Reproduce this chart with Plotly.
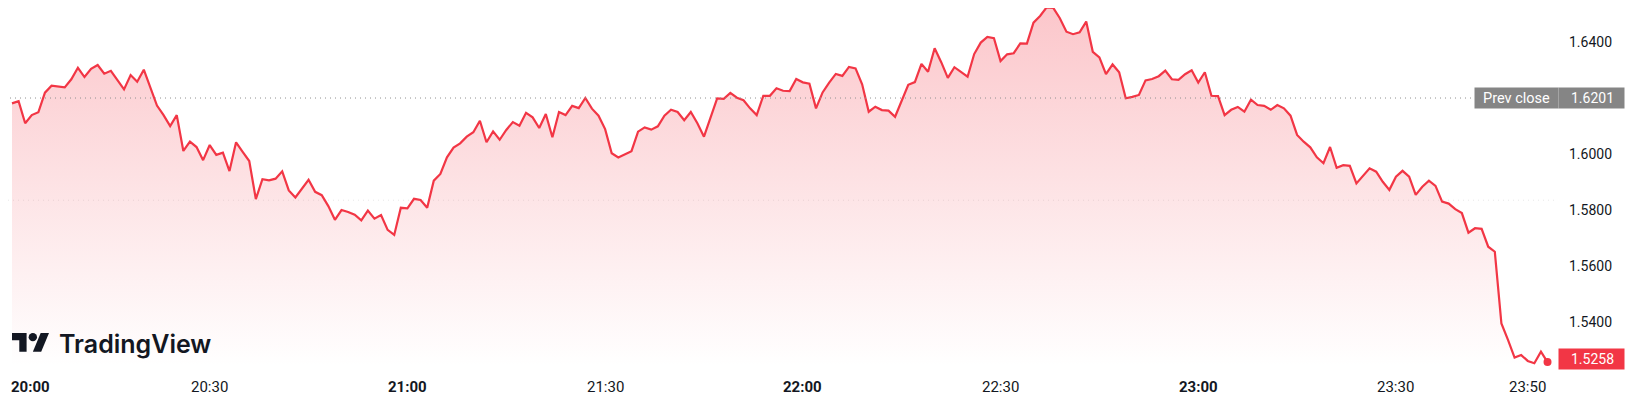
import plotly.graph_objects as go
import pandas as pd

# ---------------- data ----------------
start_time = "2024-01-01 20:00"
prices = [
    1.6182, 1.6190, 1.6111, 1.6140, 1.6150, 1.6220, 1.6245, 1.6243, 1.6239, 1.6268,
    1.6309, 1.6276, 1.6305, 1.6319, 1.6288, 1.6298, 1.6263, 1.6232, 1.6283, 1.6259,
    1.6302, 1.6240, 1.6174, 1.6140, 1.6101, 1.6140, 1.6012, 1.6045, 1.6026, 1.5979,
    1.6033, 1.5998, 1.6006, 1.5940, 1.6043, 1.6009, 1.5976, 1.5840, 1.5911, 1.5907,
    1.5913, 1.5939, 1.5871, 1.5846, 1.5879, 1.5909, 1.5866, 1.5854, 1.5815, 1.5766,
    1.5801, 1.5794, 1.5784, 1.5764, 1.5799, 1.5770, 1.5783, 1.5730, 1.5712, 1.5809,
    1.5807, 1.5841, 1.5837, 1.5809, 1.5906, 1.5930, 1.5989, 1.6024, 1.6039, 1.6063,
    1.6079, 1.6120, 1.6043, 1.6082, 1.6052, 1.6087, 1.6115, 1.6102, 1.6148, 1.6132,
    1.6094, 1.6144, 1.6061, 1.6151, 1.6140, 1.6173, 1.6165, 1.6201, 1.6163, 1.6138,
    1.6090, 1.6004, 1.5989, 1.5999, 1.6011, 1.6081, 1.6096, 1.6088, 1.6100, 1.6138,
    1.6159, 1.6151, 1.6122, 1.6151, 1.6111, 1.6063, 1.6129, 1.6200, 1.6198, 1.6219,
    1.6202, 1.6193, 1.6164, 1.6140, 1.6209, 1.6209, 1.6236, 1.6227, 1.6226, 1.6269,
    1.6257, 1.6252, 1.6164, 1.6221, 1.6256, 1.6287, 1.6280, 1.6312, 1.6307, 1.6250,
    1.6152, 1.6170, 1.6158, 1.6156, 1.6134, 1.6194, 1.6248, 1.6258, 1.6323, 1.6295,
    1.6379, 1.6329, 1.6273, 1.6311, 1.6294, 1.6277, 1.6358, 1.6399, 1.6419, 1.6415,
    1.6333, 1.6357, 1.6361, 1.6396, 1.6395, 1.6470, 1.6494, 1.6525, 1.6523, 1.6486,
    1.6438, 1.6429, 1.6436, 1.6474, 1.6366, 1.6346, 1.6286, 1.6321, 1.6293, 1.6200,
    1.6205, 1.6212, 1.6264, 1.6269, 1.6279, 1.6299, 1.6268, 1.6266, 1.6286, 1.6300,
    1.6256, 1.6293, 1.6209, 1.6208, 1.6140, 1.6159, 1.6169, 1.6152, 1.6195, 1.6176,
    1.6173, 1.6159, 1.6176, 1.6164, 1.6138, 1.6069, 1.6045, 1.6025, 1.5989, 1.5968,
    1.6026, 1.5952, 1.5961, 1.5959, 1.5896, 1.5924, 1.5950, 1.5938, 1.5902, 1.5873,
    1.5920, 1.5941, 1.5920, 1.5855, 1.5884, 1.5906, 1.5887, 1.5831, 1.5824, 1.5804,
    1.5790, 1.5720, 1.5736, 1.5734, 1.5670, 1.5652, 1.5396, 1.5337, 1.5274, 1.5283,
    1.5262, 1.5254, 1.5295, 1.5258,
]
prev_close = 1.6201
last_price = prices[-1]
ytick_vals = [1.54, 1.56, 1.58, 1.60, 1.64]
ytick_text = ["1.5400", "1.5600", "1.5800", "1.6000", "1.6400"]
xtick_times = ["20:00", "20:30", "21:00", "21:30", "22:00", "22:30", "23:00", "23:30", "23:50"]
xtick_bold = [True, False, True, False, True, False, True, False, False]
grid_level = 1.5836

times = pd.date_range(start_time, periods=len(prices), freq="min")
day = start_time.split(" ")[0]

# ---------------- layout geometry ----------------
# the page body has an 8px margin, so the figure starts at screen (8, 8)
OFF = 8
W, H = 1643 - OFF, 406 - OFF
PLOT_RIGHT, PLOT_BOTTOM = 1555, 365          # screen px
ML, MT = 0, 0
PW = PLOT_RIGHT - OFF - ML
PH = PLOT_BOTTOM - OFF - MT
MR, MB = W - ML - PW, H - MT - PH
RED = "#F23645"
GRAY = "#858585"
TEXT = "#131722"
y_lo, y_hi = 1.52475, 1.65225


def pxx(sx):
    return (sx - OFF - ML) / PW


def pxy(sy):
    return (PLOT_BOTTOM - sy) / PH


fig = go.Figure()

fig.add_trace(go.Scatter(
    x=times, y=prices, mode="lines",
    line=dict(color=RED, width=2.2),
    fill="tozeroy",
    fillgradient=dict(
        type="vertical",
        start=y_lo, stop=y_hi,
        colorscale=[[0, "rgba(242,54,69,0.0)"], [1, "rgba(242,54,69,0.28)"]],
    ),
    hoverinfo="skip", showlegend=False,
))
fig.add_trace(go.Scatter(
    x=[times[-1]], y=[last_price], mode="markers", cliponaxis=False,
    marker=dict(color=RED, size=8), hoverinfo="skip", showlegend=False,
))

shapes = []
shapes.append(dict(type="line", xref="paper", yref="y", x0=pxx(10), x1=pxx(1471),
                   y0=prev_close, y1=prev_close,
                   line=dict(color="#8f8f8f", width=1, dash="1px,4px")))
shapes.append(dict(type="line", xref="paper", yref="y", x0=0, x1=1,
                   y0=grid_level, y1=grid_level, layer="below",
                   line=dict(color="rgba(190,190,190,0.35)", width=1, dash="1px,4px")))

# TradingView logo (T bar, dot, slash)
s = 1.042
ox, oy = 12, 333


def lp(X, Y):
    return pxx(ox + s * X), pxy(oy + s * (Y - 4))


def path(pts):
    return "M " + " L ".join(f"{a:.5f},{b:.5f}" for a, b in pts) + " Z"


t_pts = [lp(0, 4), lp(14, 4), lp(14, 22), lp(7, 22), lp(7, 11), lp(0, 11)]
sl_pts = [lp(28, 22), lp(20, 22), lp(27.5, 4), lp(35.5, 4)]
shapes.append(dict(type="path", xref="paper", yref="paper", path=path(t_pts),
                   fillcolor=TEXT, line=dict(width=0)))
shapes.append(dict(type="path", xref="paper", yref="paper", path=path(sl_pts),
                   fillcolor=TEXT, line=dict(width=0)))
cx0, cy0 = lp(16, 4)
cx1, cy1 = lp(24, 12)
shapes.append(dict(type="circle", xref="paper", yref="paper", x0=cx0, x1=cx1, y0=cy1, y1=cy0,
                   fillcolor=TEXT, line=dict(width=0)))

annotations = []
annotations.append(dict(text="TradingView", xref="paper", yref="paper", x=pxx(57), y=pxy(343.5),
                        xanchor="left", yanchor="middle", showarrow=False,
                        font=dict(family="Inter", size=25, color=TEXT, weight=600)))

for t, b in zip(xtick_times, xtick_bold):
    txt = f"<b>{t}</b>" if b else t
    first = t == xtick_times[0]
    annotations.append(dict(
        text=txt, xref="x", yref="paper", x=f"{day} {t}", y=0,
        xanchor="left" if first else "center", xshift=-3 if first else 0,
        yanchor="middle", yshift=-(386.7 - PLOT_BOTTOM), showarrow=False,
        font=dict(family="Roboto", size=15, color=TEXT)))

annotations.append(dict(text="Prev close", xref="paper", yref="y", x=pxx(1474), y=prev_close,
                        xanchor="left", yanchor="middle", showarrow=False,
                        width=83, height=20, borderpad=0, align="center", bgcolor=GRAY,
                        font=dict(family="Roboto", size=14.5, color="white")))
annotations.append(dict(text=" ", xref="paper", yref="y", x=pxx(1558), y=prev_close,
                        xanchor="left", yanchor="middle", showarrow=False,
                        width=65, height=20, borderpad=0, bgcolor=GRAY,
                        font=dict(family="Roboto", size=14, color="white")))
annotations.append(dict(text=f"{prev_close:.4f}", xref="paper", yref="y", x=pxx(1615), y=prev_close,
                        xanchor="right", yanchor="middle", showarrow=False, borderpad=0,
                        font=dict(family="Roboto", size=14, color="white")))
annotations.append(dict(text=" ", xref="paper", yref="y", x=pxx(1557.7), y=last_price, yshift=3,
                        xanchor="left", yanchor="middle", showarrow=False,
                        width=65, height=19.5, borderpad=0, bgcolor=RED,
                        font=dict(family="Roboto", size=14, color="white")))
annotations.append(dict(text=f"{last_price:.4f}", xref="paper", yref="y", x=pxx(1615), y=last_price,
                        yshift=3, xanchor="right", yanchor="middle", showarrow=False, borderpad=0,
                        font=dict(family="Roboto", size=14, color="white")))

fig.update_layout(
    width=W, height=H,
    margin=dict(l=ML, r=MR, t=MT, b=MB),
    paper_bgcolor="white", plot_bgcolor="white",
    shapes=shapes, annotations=annotations,
    showlegend=False,
    xaxis=dict(range=[f"{day} 19:59:23.6", f"{day} 23:54:08"], showgrid=False, zeroline=False,
               showticklabels=False, showline=False, ticks=""),
    yaxis=dict(range=[y_lo, y_hi], side="right", showgrid=False, zeroline=False, showline=False,
               ticks="", tickvals=ytick_vals, ticktext=ytick_text, ticklabelstandoff=13,
               tickfont=dict(family="Roboto", size=14, color=TEXT)),
)

fig.write_html("out.html")
